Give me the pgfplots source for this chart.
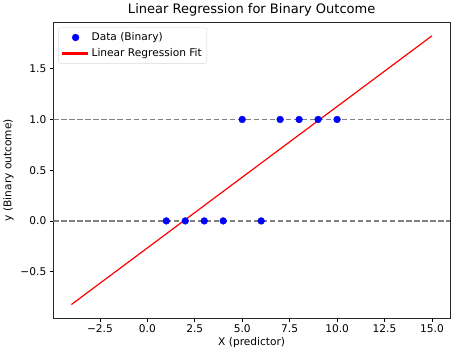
\documentclass[border=0pt]{standalone}
\usepackage{pgfplots}
\pgfplotsset{compat=1.18}
\usepackage{fontspec}
\setmainfont{DejaVu Sans}
\begin{document}
\begin{tikzpicture}
\begin{axis}[
  name=ax,
  scale only axis,
  width=396pt, height=295pt,
  xmin=-4.95, xmax=15.95,
  ymin=-0.956, ymax=1.956,
  xtick={-2.5,0,2.5,5,7.5,10,12.5,15},
  xticklabels={−2.5,0.0,2.5,5.0,7.5,10.0,12.5,15.0},
  ytick={-0.5,0,0.5,1,1.5},
  yticklabels={−0.5,0.0,0.5,1.0,1.5},
  ticklabel style={font=\fontsize{10.6}{12}\selectfont},
  tick align=outside,
  tick pos=left,
  major tick length=3.6pt,
  tick style={black, line width=0.6pt},
  axis line style={line width=0.6pt, black!85},
  title={Linear Regression for Binary Outcome},
  title style={font=\fontsize{13}{15}\selectfont, yshift=-3pt},
  xlabel={X (predictor)},
  ylabel={y (Binary outcome)},
  label style={font=\fontsize{10.6}{12}\selectfont},
  xlabel style={yshift=3pt},
  legend style={font=\fontsize{10.6}{12}\selectfont, draw=black!15, rounded corners=2pt, inner xsep=3pt, inner ysep=3pt, row sep=2.5pt, at={(0.0126,0.983)}, anchor=north west},
  legend cell align=left,
  legend image code/.code={\draw[mark repeat=2,mark phase=2,#1] plot coordinates {(0cm,0cm) (0.47cm,0cm) (0.94cm,0cm)};},
]
\addplot[gray, line width=1.4pt, dash pattern=on 5.6pt off 2.4pt, forget plot] coordinates {(-4.95,0) (15.95,0)};
\addplot[gray, line width=1.4pt, dash pattern=on 5.6pt off 2.4pt, forget plot] coordinates {(-4.95,1) (15.95,1)};
\addplot[only marks, mark=*, mark size=3.4pt, blue, mark options={fill=blue, draw=blue}] coordinates {
(1,0) (2,0) (3,0) (4,0) (5,1) (6,0) (7,1) (8,1) (9,1) (10,1)
};
\addlegendentry{Data (Binary)}
\addplot[color=red, line width=1.2pt, legend image code/.code={\fill[red, sharp corners] (0cm,-0.55pt) rectangle (0.9cm,0.55pt); \path (0.94cm,0pt);}] coordinates {(-4,-0.8242) (15,1.8242)};
\addlegendentry{Linear Regression Fit}
\end{axis}
\path ([xshift=26pt]ax.south east) -- ([xshift=26pt]ax.north east);
\end{tikzpicture}
\end{document}
